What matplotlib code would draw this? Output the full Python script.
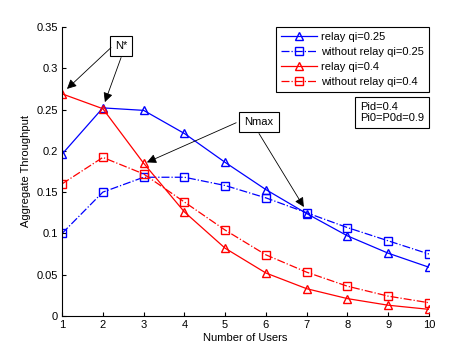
import numpy as np
import matplotlib
matplotlib.use('Agg')
import matplotlib.pyplot as plt
from matplotlib.ticker import FuncFormatter

plt.rcParams['font.family'] = ['Liberation Sans', 'DejaVu Sans']
plt.rcParams['font.size'] = 8

# Datos
users = [1, 2, 3, 4, 5, 6, 7, 8, 9, 10]
relay_025 = [0.196, 0.252, 0.249, 0.221, 0.186, 0.153, 0.124, 0.097, 0.076, 0.059]
norelay_025 = [0.100, 0.150, 0.168, 0.168, 0.158, 0.143, 0.125, 0.107, 0.091, 0.075]
relay_04 = [0.269, 0.251, 0.185, 0.126, 0.082, 0.052, 0.033, 0.021, 0.013, 0.008]
norelay_04 = [0.160, 0.192, 0.172, 0.138, 0.104, 0.074, 0.053, 0.036, 0.024, 0.016]

labels = ['relay qi=0.25', 'without relay qi=0.25', 'relay qi=0.4', 'without relay qi=0.4']

fig = plt.figure(figsize=(4.74, 3.55), dpi=100)
ax = fig.add_axes([0.131, 0.110, 0.774, 0.814])

lw = 0.9
ms = 6
ax.plot(users, relay_025, '-', color='b', marker='^', mfc='none', ms=ms, lw=lw, label=labels[0])
ax.plot(users, norelay_025, '-.', color='b', marker='s', mfc='none', ms=ms, lw=lw, label=labels[1])
ax.plot(users, relay_04, '-', color='r', marker='^', mfc='none', ms=ms, lw=lw, label=labels[2])
ax.plot(users, norelay_04, '-.', color='r', marker='s', mfc='none', ms=ms, lw=lw, label=labels[3])

ax.set_xlim(1, 10)
ax.set_ylim(0, 0.35)
ax.set_xticks(users)
ax.set_yticks(np.arange(0, 0.351, 0.05))
ax.yaxis.set_major_formatter(FuncFormatter(lambda v, p: '%g' % round(v, 2)))
ax.tick_params(direction='in', length=3, width=0.8, labelsize=8, pad=3)
ax.spines['top'].set_visible(False)
ax.spines['right'].set_visible(False)
for s in ['left', 'bottom']:
    ax.spines[s].set_linewidth(0.8)

ax.set_xlabel('Number of Users', fontsize=8, labelpad=2)
ax.set_ylabel('Aggregate Throughput', fontsize=8, labelpad=4)

leg = ax.legend(loc='upper right', bbox_to_anchor=(1.0, 1.0), fontsize=8, fancybox=False,
                framealpha=1, edgecolor='black', handlelength=3.2, borderaxespad=0,
                labelspacing=0.45, borderpad=0.45, handletextpad=0.4)
leg.get_frame().set_linewidth(0.8)

box = dict(boxstyle='square,pad=0.45', fc='white', ec='black', lw=0.8)
ax.text(2.447, 0.327, 'N*', ha='center', va='center', fontsize=8, bbox=box)
ax.text(5.83, 0.235, 'Nmax', ha='center', va='center', fontsize=8, bbox=box)
ax.text(8.30, 0.246, 'Pid=0.4\nPi0=P0d=0.9', ha='left', va='center', fontsize=8, bbox=box,
        linespacing=1.1)

arr = dict(arrowstyle='-|>', color='black', lw=0.6, mutation_scale=14, shrinkA=0, shrinkB=0)
ax.annotate('', xy=(1.12, 0.275), xytext=(2.20, 0.325), arrowprops=arr)
ax.annotate('', xy=(2.05, 0.259), xytext=(2.447, 0.313), arrowprops=arr)
ax.annotate('', xy=(3.08, 0.186), xytext=(5.27, 0.234), arrowprops=arr)
ax.annotate('', xy=(6.93, 0.132), xytext=(5.83, 0.221), arrowprops=arr)

fig.savefig('out.png', dpi=100)
